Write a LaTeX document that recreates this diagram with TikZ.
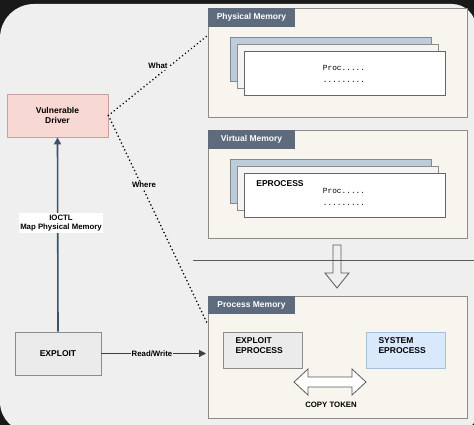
\documentclass[tikz,border=0pt]{standalone}
\usepackage{fontspec}
\setmainfont{Liberation Sans}
\setmonofont{Liberation Mono}
\usetikzlibrary{arrows.meta}
\definecolor{bgc}{HTML}{EFEFEF}
\definecolor{panelc}{HTML}{F7F5EE}
\definecolor{paneld}{HTML}{8C8C8C}
\definecolor{headc}{HTML}{5D6B7D}
\definecolor{backc}{HTML}{BDCCD9}
\definecolor{backd}{HTML}{7D8B99}
\definecolor{midc}{HTML}{F4F4F4}
\definecolor{drvc}{HTML}{F8D8D3}
\definecolor{drvd}{HTML}{C9A19C}
\definecolor{greyc}{HTML}{EBEBEB}
\definecolor{bluec}{HTML}{DAE8FC}
\definecolor{blued}{HTML}{A9BFD8}
\definecolor{arrc}{HTML}{3F5368}
\tikzset{
  box/.style={draw=paneld, line width=0.8pt, minimum width=#1, inner sep=0pt},
  panel/.style={draw=paneld, fill=panelc, line width=0.8pt, minimum width=259pt, inner sep=0pt},
  header/.style={fill=headc, text=white, font=\fontsize{8.5}{10}\selectfont\bfseries, minimum width=87pt, minimum height=19pt, inner sep=0pt},
  stackback/.style={draw=backd, fill=backc, line width=0.7pt, minimum width=201pt, minimum height=44pt, inner sep=0pt},
  stackmid/.style={draw=paneld, fill=midc, line width=0.7pt, minimum width=201pt, minimum height=44pt, inner sep=0pt},
  stackfront/.style={draw=black!60, fill=white, line width=0.8pt, minimum width=201pt, minimum height=44pt, inner sep=0pt},
  lbl/.style={font=\fontsize{8.5}{10.5}\selectfont\bfseries, align=center},
  small/.style={font=\fontsize{7.8}{9.5}\selectfont\bfseries, align=center},
  monot/.style={font=\fontsize{7.8}{12}\ttfamily, align=center},
  dotline/.style={line width=1.8pt, dash pattern=on 0.01pt off 3.8pt, line cap=round},
  hollow/.style={draw=black!65, line width=0.8pt, fill=none}
}
\begin{document}
\begin{tikzpicture}[x=1pt,y=-1pt]
\useasboundingbox (0,0) rectangle (474,425);
\fill[black!90] (0,0) rectangle (474,425);
\fill[bgc] (0,38) .. controls (0,19.2) and (15.2,4) .. (34,4)
  -- (452,4) .. controls (465.3,4) and (476,14.7) .. (476,28)
  -- (476,417) .. controls (476,422.5) and (471.5,427) .. (466,427)
  -- (30,432) .. controls (13.4,432) and (0,418.6) .. (0,402) -- cycle;

% divider line
\coordinate (divL) at (193,260);
\coordinate (divR) at (474,260);
\draw[black!65, line width=0.8pt] (divL) -- (divR);

% Physical memory panel
\node[panel, minimum height=109pt] (phys) at (337.5,62.5) {};
\node[header] (physh) at (251.5,17.5) {Physical Memory};
\node[stackback] (pb) at (330.5,59) {};
\node[stackmid] (pm) at (337.5,66) {};
\node[stackfront] (pf) at (344.5,73) {};
\node[monot] (pft) at (344,74) {Proc.....\\.........};

% Virtual memory panel
\node[panel, minimum height=108pt] (virt) at (337.5,184) {};
\node[header] (virth) at (251.5,139.5) {Virtual Memory};
\node[stackback] (vb) at (330.5,181) {};
\node[stackmid] (vm) at (337.5,188) {};
\node[stackfront] (vf) at (344.5,195) {};
\node[lbl] (vep) at (280,184) {EPROCESS};
\node[monot] (vft) at (344,197) {Proc.....\\.........};

% Process memory panel
\node[panel, minimum height=122pt] (proc) at (337.5,357) {};
\node[header, minimum height=18pt] (proch) at (251.5,305) {Process Memory};
\node[box=79pt, fill=greyc, minimum height=36pt] (eep) at (262.5,350) {};
\node[lbl, align=left, anchor=north west] (eept) at (232,334) {EXPLOIT\\EPROCESS};
\node[box=79pt, draw=blued, fill=bluec, minimum height=36pt] (sep) at (405.5,350) {};
\node[lbl, align=left, anchor=north west] (sept) at (375,334) {SYSTEM\\EPROCESS};
\node[small] (copy) at (331,404.5) {COPY TOKEN};

% hollow arrows
\draw[hollow] (333,245) -- (341,245) -- (341,273) -- (349,273) -- (337,288) -- (325,273) -- (333,273) -- cycle;
\draw[hollow, fill=white] (294,382) -- (308,369) -- (308,377) -- (352,377) -- (352,369) -- (366,382) -- (352,395) -- (352,387) -- (308,387) -- (308,395) -- cycle;

% left nodes
\node[box=101pt, draw=drvd, fill=drvc, minimum height=43pt, lbl] (drv) at (57.5,115.5) {Vulnerable\\Driver};
\node[box=86pt, fill=greyc, minimum height=43pt, lbl] (expl) at (58,353.5) {EXPLOIT};

% IOCTL arrow
\draw[arrc, line width=1.6pt, -{Triangle[length=7pt,width=7pt]}] (expl.north) -- (drv.south);
\node[small, fill=white, inner sep=1.5pt, minimum width=81pt] (ioctl) at (61,223) {IOCTL\\Map Physical Memory};

% Read/Write arrow
\coordinate (rwEnd) at (206,353.5);
\draw[black!75, line width=1.2pt, -{Triangle[length=7pt,width=7pt]}] (expl.east) -- (rwEnd);
\node[small, fill=bgc, inner sep=0.5pt] (rw) at (152,354) {Read/Write};

% dotted lines
\coordinate (whatEnd) at (207,36);
\coordinate (whereEnd) at (207,323);
\draw[dotline] (drv.east) -- (whatEnd);
\draw[dotline] (drv.east) -- (whereEnd);
\node[small, fill=bgc, inner sep=1pt] (what) at (158,66) {What};
\node[small, fill=bgc, inner sep=1pt] (where) at (144,185) {Where};
\end{tikzpicture}
\end{document}
